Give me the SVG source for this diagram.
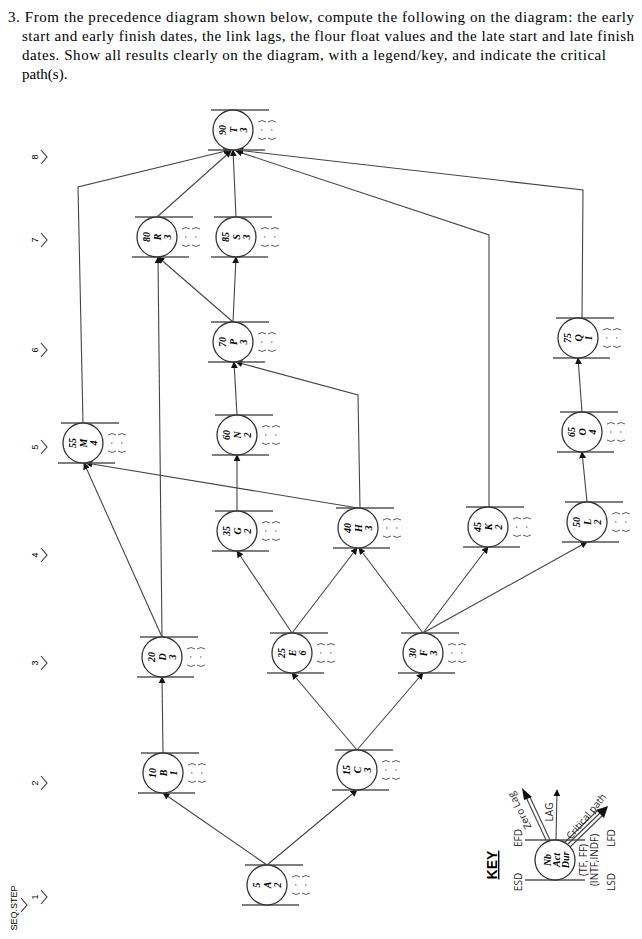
<svg xmlns="http://www.w3.org/2000/svg" width="642" height="939" viewBox="0 0 642 939">
<style>
.hd{font-family:"Liberation Serif",serif;font-size:15px;fill:#000}
.nt{font-family:"Liberation Serif",serif;font-size:10px;font-weight:bold;font-style:italic;text-anchor:middle;dominant-baseline:central}
.c{fill:#fff;stroke:#333;stroke-width:1.3}
.ln{stroke:#555;stroke-width:1.3}
.br{fill:none;stroke:#334;stroke-width:0.8}
.e{fill:none;stroke:#444;stroke-width:1.1}
.ea{fill:none;stroke:#444;stroke-width:1.1;marker-end:url(#ah)}
.sq{font-family:"Liberation Sans",sans-serif;font-size:9px;text-anchor:middle;dominant-baseline:central}
.ky{font-family:"Open Sans","Liberation Sans",sans-serif;font-size:10px;text-anchor:middle;dominant-baseline:central;fill:#222}
</style>
<defs>
<marker id="ah" viewBox="0 0 10 10" refX="9" refY="5" markerWidth="7" markerHeight="7" orient="auto" markerUnits="userSpaceOnUse"><path d="M0,0L10,5L0,10z" fill="#111"/></marker>
<g id="nd">
<line class="ln" x1="-22" y1="-20" x2="36" y2="-20"/>
<line class="ln" x1="-25" y1="20" x2="32" y2="20"/>
<circle class="c" r="20"/>
<path class="br" d="M25,-8 q4,-3 8,0 M35,-8 q4,-3 8,0 M28,0 h1.5 M38,0 h1.5 M25,8 q4,3 8,0 M35,8 q4,3 8,0"/>
</g>
</defs>
<text class="hd" x="8" y="22" textLength="626">3. From the precedence diagram shown below, compute the following on the diagram: the early</text>
<text class="hd" x="22" y="41" textLength="612">start and early finish dates, the link lags, the flour float values and the late start and late finish</text>
<text class="hd" x="22" y="60" textLength="584">dates. Show all results clearly on the diagram, with a legend/key, and indicate the critical</text>
<text class="hd" x="22" y="79">path(s).</text>

<g id="seq">
<g fill="none" stroke="#333" stroke-width="1.1">
<path d="M41,890 L47,897 L41,904"/><path d="M41,776 L47,783 L41,790"/><path d="M41,656 L47,663 L41,670"/><path d="M41,548 L47,555 L41,562"/><path d="M41,440 L47,447 L41,454"/><path d="M41,343 L47,350 L41,357"/><path d="M41,233 L47,240 L41,247"/><path d="M41,150 L47,157 L41,164"/><path d="M21,898 L27,905 L21,912"/>
</g>
<text class="sq" transform="translate(35,897) rotate(-90)">1</text>
<text class="sq" transform="translate(35,783) rotate(-90)">2</text>
<text class="sq" transform="translate(35,663) rotate(-90)">3</text>
<text class="sq" transform="translate(35,555) rotate(-90)">4</text>
<text class="sq" transform="translate(35,447) rotate(-90)">5</text>
<text class="sq" transform="translate(35,350) rotate(-90)">6</text>
<text class="sq" transform="translate(35,240) rotate(-90)">7</text>
<text class="sq" transform="translate(35,157) rotate(-90)">8</text>
<text class="sq" transform="translate(14,908) rotate(-90)">SEQ.STEP</text>
</g>

<g id="connectors">
<line class="ea" x1="267" y1="865" x2="163" y2="793"/>
<line class="ea" x1="267" y1="865" x2="357" y2="790"/>
<line class="ea" x1="163" y1="753" x2="162" y2="677"/>
<line class="ea" x1="357" y1="750" x2="292" y2="673"/>
<line class="ea" x1="357" y1="750" x2="423" y2="673"/>
<line class="ea" x1="162" y1="637" x2="158" y2="257"/>
<line class="ea" x1="162" y1="637" x2="84" y2="463"/>
<line class="ea" x1="292" y1="633" x2="237" y2="551"/>
<line class="ea" x1="292" y1="633" x2="357" y2="548"/>
<line class="ea" x1="423" y1="633" x2="359" y2="548"/>
<line class="ea" x1="423" y1="633" x2="488" y2="547"/>
<line class="ea" x1="423" y1="633" x2="587" y2="542"/>
<line class="ea" x1="237" y1="511" x2="237" y2="455"/>
<line class="ea" x1="358" y1="508" x2="86" y2="463"/>
<polyline class="ea" points="360,508 358,395 236,362"/>
<line class="ea" x1="237" y1="415" x2="234" y2="362"/>
<line class="ea" x1="587" y1="502" x2="582" y2="452"/>
<line class="ea" x1="582" y1="412" x2="578" y2="358"/>
<line class="ea" x1="233" y1="322" x2="158" y2="257"/>
<line class="ea" x1="233" y1="322" x2="236" y2="257"/>
<line class="ea" x1="157" y1="217" x2="231" y2="151"/>
<line class="ea" x1="236" y1="217" x2="233" y2="150"/>
<polyline class="ea" points="83,423 78,187 230,150"/>
<polyline class="ea" points="489,507 489,235 236,151"/>
<polyline class="ea" points="582,318 583,190 237,150"/>
</g>

<g id="A"><use href="#nd" x="267" y="885"/><text class="nt" transform="translate(256,885) rotate(-90)">5</text><text class="nt" transform="translate(267,885) rotate(-90)">A</text><text class="nt" transform="translate(277,885) rotate(-90)">2</text></g>
<g id="B"><use href="#nd" x="163" y="773"/><text class="nt" transform="translate(152,773) rotate(-90)">10</text><text class="nt" transform="translate(163,773) rotate(-90)">B</text><text class="nt" transform="translate(173,773) rotate(-90)">1</text></g>
<g id="C"><use href="#nd" x="357" y="770"/><text class="nt" transform="translate(346,770) rotate(-90)">15</text><text class="nt" transform="translate(357,770) rotate(-90)">C</text><text class="nt" transform="translate(367,770) rotate(-90)">3</text></g>
<g id="D"><use href="#nd" x="162" y="657"/><text class="nt" transform="translate(151,657) rotate(-90)">20</text><text class="nt" transform="translate(162,657) rotate(-90)">D</text><text class="nt" transform="translate(172,657) rotate(-90)">3</text></g>
<g id="E"><use href="#nd" x="292" y="653"/><text class="nt" transform="translate(281,653) rotate(-90)">25</text><text class="nt" transform="translate(292,653) rotate(-90)">E</text><text class="nt" transform="translate(302,653) rotate(-90)">6</text></g>
<g id="F"><use href="#nd" x="423" y="653"/><text class="nt" transform="translate(412,653) rotate(-90)">30</text><text class="nt" transform="translate(423,653) rotate(-90)">F</text><text class="nt" transform="translate(433,653) rotate(-90)">3</text></g>
<g id="G"><use href="#nd" x="237" y="531"/><text class="nt" transform="translate(226,531) rotate(-90)">35</text><text class="nt" transform="translate(237,531) rotate(-90)">G</text><text class="nt" transform="translate(247,531) rotate(-90)">2</text></g>
<g id="H"><use href="#nd" x="358" y="528"/><text class="nt" transform="translate(347,528) rotate(-90)">40</text><text class="nt" transform="translate(358,528) rotate(-90)">H</text><text class="nt" transform="translate(368,528) rotate(-90)">3</text></g>
<g id="K"><use href="#nd" x="488" y="527"/><text class="nt" transform="translate(477,527) rotate(-90)">45</text><text class="nt" transform="translate(488,527) rotate(-90)">K</text><text class="nt" transform="translate(498,527) rotate(-90)">2</text></g>
<g id="L"><use href="#nd" x="587" y="522"/><text class="nt" transform="translate(576,522) rotate(-90)">50</text><text class="nt" transform="translate(587,522) rotate(-90)">L</text><text class="nt" transform="translate(597,522) rotate(-90)">2</text></g>
<g id="M"><use href="#nd" x="83" y="443"/><text class="nt" transform="translate(72,443) rotate(-90)">55</text><text class="nt" transform="translate(83,443) rotate(-90)">M</text><text class="nt" transform="translate(93,443) rotate(-90)">4</text></g>
<g id="N"><use href="#nd" x="237" y="435"/><text class="nt" transform="translate(226,435) rotate(-90)">60</text><text class="nt" transform="translate(237,435) rotate(-90)">N</text><text class="nt" transform="translate(247,435) rotate(-90)">2</text></g>
<g id="O"><use href="#nd" x="582" y="432"/><text class="nt" transform="translate(571,432) rotate(-90)">65</text><text class="nt" transform="translate(582,432) rotate(-90)">O</text><text class="nt" transform="translate(592,432) rotate(-90)">4</text></g>
<g id="P"><use href="#nd" x="233" y="342"/><text class="nt" transform="translate(222,342) rotate(-90)">70</text><text class="nt" transform="translate(233,342) rotate(-90)">P</text><text class="nt" transform="translate(243,342) rotate(-90)">3</text></g>
<g id="Q"><use href="#nd" x="578" y="338"/><text class="nt" transform="translate(567,338) rotate(-90)">75</text><text class="nt" transform="translate(578,338) rotate(-90)">Q</text><text class="nt" transform="translate(588,338) rotate(-90)">1</text></g>
<g id="R"><use href="#nd" x="157" y="237"/><text class="nt" transform="translate(146,237) rotate(-90)">80</text><text class="nt" transform="translate(157,237) rotate(-90)">R</text><text class="nt" transform="translate(167,237) rotate(-90)">3</text></g>
<g id="S"><use href="#nd" x="236" y="237"/><text class="nt" transform="translate(225,237) rotate(-90)">85</text><text class="nt" transform="translate(236,237) rotate(-90)">S</text><text class="nt" transform="translate(246,237) rotate(-90)">3</text></g>
<g id="T"><use href="#nd" x="233" y="130"/><text class="nt" transform="translate(222,130) rotate(-90)">90</text><text class="nt" transform="translate(233,130) rotate(-90)">T</text><text class="nt" transform="translate(243,130) rotate(-90)">3</text></g>

<g id="key">
<text transform="translate(497,865) rotate(-90)" font-family="Liberation Sans,sans-serif" font-size="14" font-weight="bold" text-anchor="middle" text-decoration="underline">KEY</text>
<line class="ln" x1="525" y1="840" x2="585" y2="840"/>
<line class="ln" x1="525" y1="880" x2="585" y2="880"/>
<line class="e" x1="546" y1="840" x2="525" y2="795"/><line class="e" x1="550" y1="840" x2="529" y2="795"/>
<path d="M522,788 L532,797 L524,800z" fill="#111"/>
<line class="ea" x1="556" y1="840" x2="557" y2="790"/>
<line class="e" x1="564" y1="843" x2="598" y2="810"/><line class="e" x1="567" y1="845" x2="601" y2="812"/><line class="e" x1="570" y1="847" x2="604" y2="814"/>
<path d="M608,806 L596,810 L604,818z" fill="#111"/>
<circle class="c" cx="555" cy="860" r="20"/>
<text class="nt" transform="translate(547,860) rotate(-90)">Nb</text>
<text class="nt" transform="translate(556,860) rotate(-90)">Act</text>
<text class="nt" transform="translate(565,860) rotate(-90)">Dur</text>
<text class="ky" transform="translate(518,882) rotate(-90)">ESD</text>
<text class="ky" transform="translate(518,838) rotate(-90)">EFD</text>
<text class="ky" transform="translate(611,882) rotate(-90)">LSD</text>
<text class="ky" transform="translate(611,838) rotate(-90)">LFD</text>
<text class="ky" transform="translate(583,860) rotate(-90)">(TF, FF)</text>
<text class="ky" transform="translate(594,860) rotate(-90)">(INTF,INDF)</text>
<text class="ky" transform="translate(519,811) rotate(-117)">Zero Lag</text>
<text class="ky" transform="translate(549,812) rotate(-90)">LAG</text>
<text class="ky" transform="translate(586,816) rotate(-50)">Critical path</text>
</g>
</svg>
